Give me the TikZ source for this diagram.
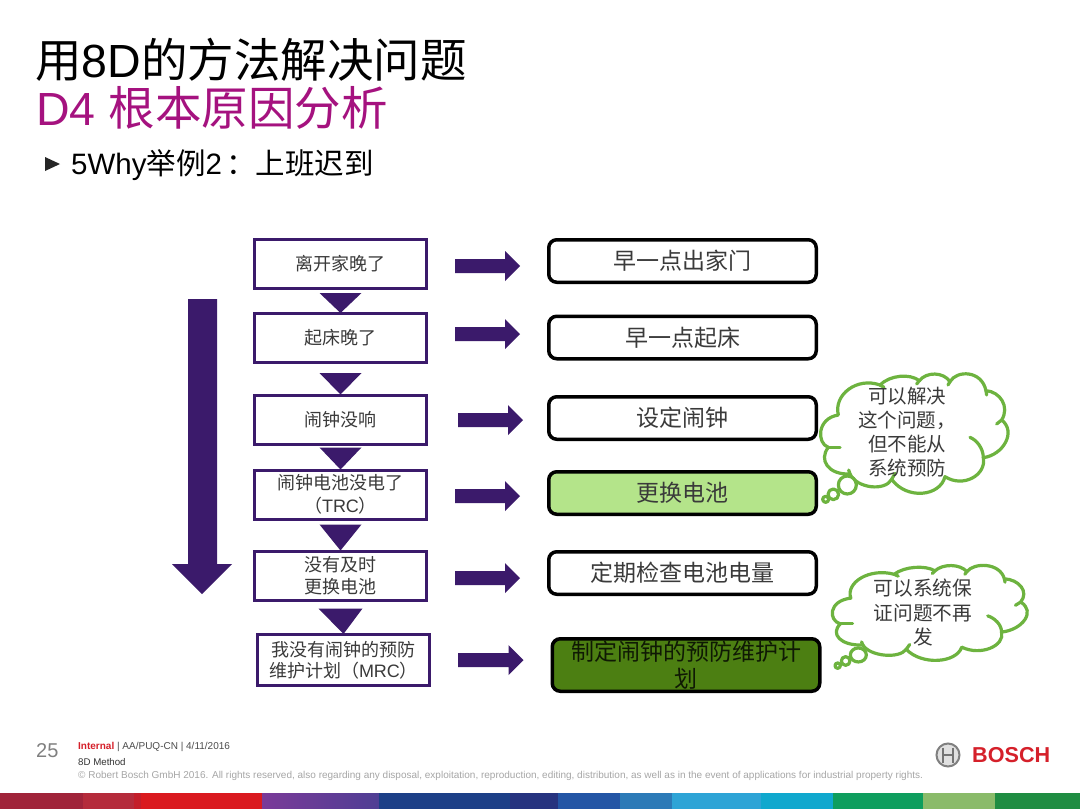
\documentclass[tikz,border=0pt]{standalone}
\usepackage{fontspec}
\setmainfont{Liberation Sans}
\newfontfamily\cjk{Noto Sans CJK SC}
\usetikzlibrary{calc}
\definecolor{pur}{HTML}{3B1A6B}
\definecolor{cloudg}{HTML}{6DB33F}
\definecolor{txt}{HTML}{3A3A3A}
\definecolor{mag}{HTML}{A5127F}
\definecolor{lgreen}{HTML}{B4E48A}
\definecolor{dgreen}{HTML}{4C7F12}
\definecolor{boschred}{HTML}{D5202A}
\newcommand\fs[1]{\fontsize{#1}{#1}\selectfont}
\newcommand\zh[1]{{\cjk #1}}
\newcommand\strip[3]{\definecolor{tmpc}{HTML}{#3}\fill[tmpc] (#1,793) rectangle (#2,809);}
\tikzset{
  lbox/.style={draw=pur,line width=3pt,minimum width=172pt,minimum height=49pt,inner sep=0pt,align=center,text=txt,font=\cjk\fs{18}},
  rbox/.style={draw=black,line width=3.5pt,rounded corners=8pt,minimum width=267.5pt,minimum height=42.5pt,inner sep=0pt,align=center,text=txt,font=\cjk\fs{23}},
  cloudline/.style={draw=cloudg,line width=3.2pt,line cap=round,line join=round},
  cloudtext/.style={align=center,text=txt,font=\cjk\fs{19.5},inner sep=0pt},
  foot/.style={anchor=west,inner sep=0pt},
  title/.style={anchor=west,inner sep=0pt,font=\fs{46.5}}
}
\newcommand\blockarrow[2]{\fill[pur] let \p1=(#1), \p2=(#2) in
  (\x1,\y1-7pt) -- (\x2-15pt,\y1-7pt) -- (\x2-15pt,\y1-15pt) -- (\x2,\y1) -- (\x2-15pt,\y1+15pt) -- (\x2-15pt,\y1+7pt) -- (\x1,\y1+7pt) -- cycle;}
\newcommand\tri[3]{\fill[pur] ([xshift=-21pt,yshift=#3]#1) -- ([xshift=21pt,yshift=#3]#1) -- ([yshift=-1pt]#2) -- cycle;}
\newcommand\cloudshape{%
  \draw[cloudline,fill=white] (115,165) .. controls (50,175) and (50,250) .. (85,262)
    .. controls (55,300) and (85,345) .. (150,342)
    .. controls (170,385) and (255,395) .. (275,358)
    .. controls (320,420) and (420,410) .. (435,350)
    .. controls (490,385) and (560,345) .. (550,293)
    .. controls (610,285) and (650,215) .. (605,180)
    .. controls (630,140) and (600,95) .. (558,92)
    .. controls (545,30) and (470,30) .. (450,65)
    .. controls (430,35) and (380,35) .. (358,62)
    .. controls (330,40) and (270,45) .. (240,75)
    .. controls (170,50) and (100,105) .. (115,165) -- cycle;
  \draw[cloudline] (85,262) -- (120,262);
  \draw[cloudline] (150,342) -- (146,330);
  \draw[cloudline] (275,358) -- (285,340);
  \draw[cloudline] (550,293) .. controls (550,265) and (530,240) .. (510,232);
  \draw[cloudline] (605,180) -- (590,192);
  \draw[cloudline] (450,65) -- (444,75);
  \draw[cloudline] (358,62) -- (350,72);
  \draw[cloudline] (240,75) -- (252,82);
  \draw[cloudline] (558,92) -- (560,105);
}
\begin{document}
\begin{tikzpicture}[x=1pt,y=-1pt]
\useasboundingbox (0,0) rectangle (1080,809);
\fill[white] (0,0) rectangle (1080,809);

% titles
\node[title] (t1) at (35,60) {\zh{用}8D\zh{的方法解决问题}};
\node[title,text=mag] (t2) at (36,108) {D4 \zh{根本原因分析}};
\fill[black!85] (45,157) -- (60,164) -- (45,171) -- cycle;
\node[anchor=west,inner sep=0pt,font=\fs{29.5}] (t3) at (71,165) {5Why\zh{举例}2\hspace{4pt}\zh{：上班迟到}};

% big down arrow
\fill[pur] (188,299) -- (217,299) -- (217,564) -- (232,564) -- (202,594) -- (172,564) -- (188,564) -- cycle;

% left boxes
\node[lbox] (l1) at (340.5,264) {离开家晚了};
\node[lbox] (l2) at (340.5,338) {起床晚了};
\node[lbox] (l3) at (340.5,419.5) {闹钟没响};
\node[lbox] (l4) at (340.5,494.5) {闹钟电池没电了\\[5pt]（\fontspec{Liberation Sans}TRC\cjk）};
\node[lbox] (l5) at (340.5,575.5) {没有及时\\[4pt]更换电池};
\node[lbox,minimum height=51pt] (l6) at (343.5,660) {我没有闹钟的预防\\[3pt]维护计划（\fontspec{Liberation Sans}MRC\cjk）};

% right boxes
\node[rbox] (r1) at (682.5,261) {早一点出家门};
\node[rbox] (r2) at (682.5,337.5) {早一点起床};
\node[rbox] (r3) at (682.5,418) {设定闹钟};
\node[rbox,fill=lgreen] (r4) at (682.5,493) {更换电池};
\node[rbox] (r5) at (682.5,573) {定期检查电池电量};
\node[rbox,fill=dgreen,minimum height=52.5pt,text=black!80!dgreen] (r6) at (686,665) {制定闹钟的预防维护计\\[4pt]划};

% triangles between boxes
\tri{l1.south}{l2.north}{-3pt}
\tri{l2.south}{l3.north}{-9pt}
\tri{l3.south}{l4.north}{-2pt}
\tri{l4.south}{l5.north}{-4pt}
\fill[pur] ([xshift=-22pt,yshift=-7pt]l5.south) -- ([xshift=22pt,yshift=-7pt]l5.south) -- ([yshift=-1pt]l6.north) -- cycle;

% block arrows
\blockarrow{[xshift=27pt,yshift=-2pt]l1.east}{[xshift=-27pt]r1.west}
\blockarrow{[xshift=27pt,yshift=4pt]l2.east}{[xshift=-27pt]r2.west}
\blockarrow{[xshift=30pt,yshift=-0.5pt]l3.east}{[xshift=-24pt]r3.west}
\blockarrow{[xshift=27pt,yshift=-1.5pt]l4.east}{[xshift=-27pt]r4.west}
\blockarrow{[xshift=27pt,yshift=-2.5pt]l5.east}{[xshift=-27pt]r5.west}
\blockarrow{[xshift=27pt]l6.east}{[xshift=-27pt]r6.west}

% cloud 1
\begin{scope}[shift={(800,360)},x=0.3333pt,y=-0.3333pt]
  \cloudshape
  \draw[cloudline,fill=white] (142,375) circle (27);
  \draw[cloudline,fill=white] (100,403) circle (16);
  \draw[cloudline,fill=white] (77,418) circle (9);
\end{scope}
\node[cloudtext] (c1) at (907,432.5) {可以解决\\[4.5pt]这个问题，\\[4.5pt]但不能从\\[4.5pt]系统预防};

% cloud 2
\begin{scope}[shift={(810.9,554.4)},x=0.3467pt,y=-0.265pt]
  \cloudshape
\end{scope}
\begin{scope}[shift={(800,360)},x=0.3333pt,y=-0.3333pt]
  \draw[cloudline,fill=white] (175,885) ellipse (24 and 21);
  \draw[cloudline,fill=white] (137,903) circle (13);
  \draw[cloudline,fill=white] (113,917) circle (8);
\end{scope}
\node[cloudtext,font=\cjk\fs{19.7}] (c2) at (923,612.5) {可以系统保\\[4.5pt]证问题不再\\[4.5pt]发};

% footer
\node[anchor=west,inner sep=0pt,text=black!50,font=\fs{20}] (pg) at (36,751) {25};
\node[foot,font=\fs{10},text=black!70] (f1) at (78,747) {\textbf{\textcolor{boschred}{Internal}} | AA/PUQ-CN | 4/11/2016};
\node[foot,font=\fs{9.7},text=black!80] (f2) at (78,762) {8D Method};
\node[foot,font=\fs{10},text=black!35] (f3) at (78,776) {© Robert Bosch GmbH 2016. All rights reserved, also regarding any disposal, exploitation, reproduction, editing, distribution, as well as in the event of applications for industrial property rights.};

% logo
\draw[black!50,line width=2pt,fill=black!12] (948,755) circle (11.5);
\draw[black!55,line width=1.6pt] (943,747.5) -- (943,762.5) (953,747.5) -- (953,762.5) (943,755) -- (953,755);
\node[anchor=west,inner sep=0pt,font=\bfseries\fs{21.6},text=boschred] (bosch) at (972,755) {BOSCH};

% colour strip
\strip{0}{83}{A0243A}
\strip{83}{134}{B52B3B}
\strip{134}{141}{C41E2A}
\strip{141}{262}{DA1A1F}
\definecolor{sa}{HTML}{7A3A98}\definecolor{sb}{HTML}{4F3E94}
\shade[left color=sa,right color=sb] (262,793) rectangle (379,809);
\strip{379}{510}{1C3F87}
\strip{510}{558}{26337F}
\strip{558}{620}{2355A5}
\strip{620}{672}{2C7AB7}
\strip{672}{761}{2EA4D6}
\strip{761}{833}{10A8CE}
\strip{833}{923}{0E9E5E}
\strip{923}{995}{8ABB6A}
\strip{995}{1080}{1F8D42}
\end{tikzpicture}
\end{document}
